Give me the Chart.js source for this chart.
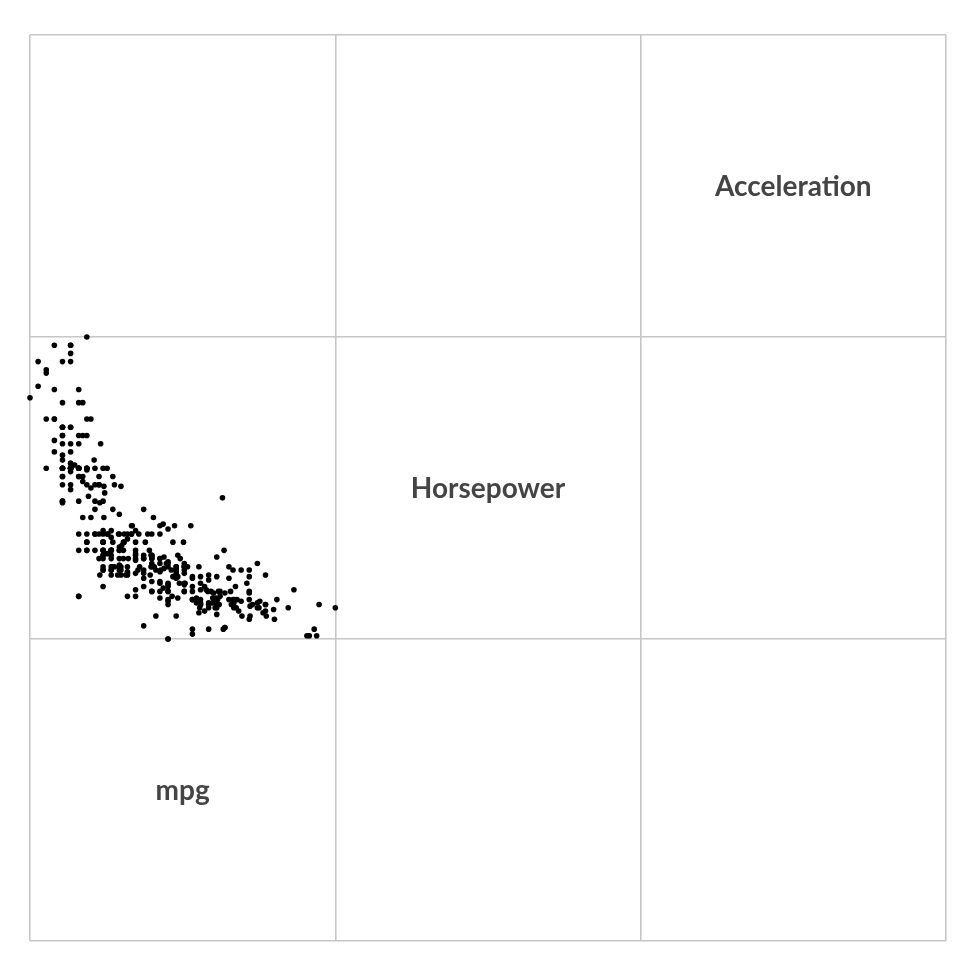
<!DOCTYPE html>
<html>
<head>
<meta charset="utf-8">
<script src="https://cdn.jsdelivr.net/npm/chart.js@4.4.0/dist/chart.umd.min.js"></script>
<style>
    html, body { margin: 0; padding: 0; background: #fff; }
    .chart-box { width: 978px; height: 972px; }
</style>
</head>
<body>
<div class="chart-box">
    <canvas id="myChart"></canvas>
</div>
<script>
// matrix fields: rows top to bottom, columns left to right
const rowFields = ["Acceleration", "Horsepower", "mpg"];
const colFields = ["mpg", "Horsepower", "Acceleration"];

// mpg vs Horsepower, one entry per car
const mpg = [
    18, 15, 18, 16, 17, 15, 14, 14, 14, 15, 15, 14, 15, 14,
    24, 22, 18, 21, 27, 26, 25, 24, 25, 26, 21, 10, 10, 11, 9, 27, 28, 25,
    19, 16, 17, 19, 18, 14, 14, 14, 14, 12, 13, 13, 18, 22, 19, 18, 23,
    28, 30, 30, 31, 35, 27, 26, 24, 25, 23, 20, 21, 13, 14, 15, 14, 17, 11, 13, 12,
    13, 19, 15, 13, 13, 14, 18, 22, 21, 26, 22, 28, 23, 28, 27, 13, 14, 13, 14, 15,
    12, 13, 13, 14, 13, 12, 13, 18, 16, 18, 18, 23, 26, 11, 12, 13, 12, 18, 20, 21,
    22, 18, 19, 21, 26, 15, 16, 29, 24, 20, 19, 15, 24, 20, 11, 20,
    19, 15, 31, 26, 32, 25, 16, 16, 18, 16, 13, 14, 14, 14, 29, 26, 26, 31, 32, 28, 24, 26, 24,
    26, 31, 19, 18, 15, 15, 16, 15, 16, 14, 17, 16, 15, 18, 21, 20, 13, 29, 23, 20,
    23, 24, 25, 24, 18, 29, 19, 23, 23, 22, 25, 33, 28, 25, 25, 26, 27, 17.5, 16, 15.5,
    14.5, 22, 22, 24, 22.5, 29, 24.5, 29, 33, 20, 18, 18.5, 17.5, 29.5, 32, 28, 26.5, 20, 13, 19,
    19, 16.5, 16.5, 13, 13, 13, 31.5, 30, 36, 25.5, 33.5, 17.5, 17, 15.5, 15, 17.5, 20.5, 19, 18.5, 16,
    15.5, 15.5, 16, 29, 24.5, 26, 25.5, 30.5, 33.5, 30, 30.5, 22, 21.5, 21.5, 43.1, 36.1, 32.8, 39.4, 36.1, 19.9,
    19.4, 20.2, 19.2, 20.5, 20.2, 25.1, 20.5, 19.4, 20.6, 20.8, 18.6, 18.1, 19.2, 17.7, 18.1, 17.5, 30, 27.5, 27.2, 30.9,
    21.1, 23.2, 23.8, 23.9, 20.3, 17, 21.6, 16.2, 31.5, 29.5, 21.5, 19.8, 22.3, 20.2, 20.6, 17, 17.6, 16.5, 18.2, 16.9,
    15.5, 19.2, 18.5, 31.9, 34.1, 35.7, 27.4, 25.4, 23, 27.2, 23.9, 34.2, 34.5, 31.8, 37.3, 28.4, 28.8, 26.8, 33.5, 41.5,
    38.1, 32.1, 37.2, 28, 26.4, 24.3, 19.1, 34.3, 29.8, 31.3, 37, 32.2, 46.6, 27.9, 40.8, 44.3, 43.4, 36.4, 30, 44.6,
    33.8, 29.8, 32.7, 23.7, 35,
    32.4, 27.2, 26.6, 25.8, 23.5, 30, 39.1, 39, 35.1, 32.3, 37, 37.7, 34.1, 34.7, 34.4, 29.9, 33,
    33.7, 32.4, 32.9, 31.6, 28.1, 30.7, 25.4, 24.2, 22.4, 26.6, 20.2, 17.6, 28, 27, 34, 31, 29, 27, 24, 36,
    37, 31, 38, 36, 36, 36, 34, 38, 32, 38, 25, 38, 26, 22, 32, 36, 27, 27, 44, 32, 28, 31
];
const horsepower = [
    130, 165, 150, 150, 140, 198, 220, 215, 225, 190, 170, 160, 150, 225,
    95, 95, 97, 85, 88, 46, 87, 90, 95, 113, 90, 215, 200, 210, 193, 88, 90, 95,
    100, 105, 100, 88, 100, 165, 175, 153, 150, 180, 170, 175, 110, 72, 100, 88, 86,
    90, 70, 76, 65, 69, 60, 70, 95, 80, 54, 90, 86, 165, 175, 150, 153, 150, 208, 155, 160,
    190, 97, 150, 130, 140, 150, 112, 76, 87, 69, 86, 92, 97, 80, 88, 175, 150, 145, 137, 150,
    198, 150, 158, 150, 215, 225, 175, 105, 100, 100, 88, 95, 46, 150, 167, 170, 180, 100, 88, 72,
    94, 90, 85, 107, 90, 145, 230, 49, 75, 91, 112, 150, 110, 122, 180, 95,
    100, 100, 67, 80, 65, 75, 100, 110, 105, 140, 150, 150, 140, 150, 83, 67, 78, 52, 61, 75, 75, 75, 97,
    93, 67, 95, 105, 72, 72, 170, 145, 150, 148, 110, 105, 110, 95, 110, 110, 129, 75, 83, 100,
    78, 96, 71, 97, 97, 70, 90, 95, 88, 98, 115, 53, 86, 81, 92, 79, 83, 140, 150, 120,
    152, 100, 105, 81, 90, 52, 60, 70, 53, 100, 78, 110, 95, 71, 70, 75, 72, 102, 150, 88,
    108, 120, 180, 145, 130, 150, 68, 80, 58, 96, 70, 145, 110, 145, 130, 110, 105, 100, 98, 180,
    170, 190, 149, 78, 88, 75, 89, 63, 83, 67, 78, 97, 110, 110, 48, 66, 52, 70, 60, 110,
    140, 139, 105, 95, 85, 88, 100, 90, 105, 85, 110, 120, 145, 165, 139, 140, 68, 95, 97, 75,
    95, 105, 85, 97, 103, 125, 115, 133, 71, 68, 115, 85, 88, 90, 110, 130, 129, 138, 135, 155,
    142, 125, 150, 71, 65, 80, 80, 77, 125, 71, 90, 70, 70, 65, 69, 90, 115, 115, 90, 76,
    60, 70, 65, 90, 88, 90, 90, 78, 90, 75, 92, 75, 65, 105, 65, 48, 48, 67, 67, 67,
    67, 62, 132, 100, 88,
    72, 84, 84, 92, 110, 84, 58, 64, 60, 67, 65, 62, 68, 63, 65, 65, 74,
    75, 75, 100, 74, 80, 76, 116, 120, 110, 105, 88, 85, 88, 88, 88, 85, 84, 90, 92, 74,
    68, 68, 63, 70, 88, 75, 70, 67, 67, 67, 110, 85, 92, 112, 96, 84, 90, 86, 52, 84, 79, 82
];

// the scatter sits in the column of mpg and the row of Horsepower;
// each cell spans the data range of its field
const mpgMin = Math.min(...mpg), mpgMax = Math.max(...mpg);
const hpMin = Math.min(...horsepower), hpMax = Math.max(...horsepower);
const mpgSpan = mpgMax - mpgMin, hpSpan = hpMax - hpMin;
const col = colFields.indexOf("mpg");
const row = rowFields.indexOf("Horsepower");
const nCols = colFields.length, nRows = rowFields.length;

const xMin = mpgMin - col * mpgSpan;
const xMax = xMin + nCols * mpgSpan;
// rows count from the top, the y axis from the bottom
const yMin = hpMin - (nRows - 1 - row) * hpSpan;
const yMax = yMin + nRows * hpSpan;

const cellTicks = (min, span, n) => {
    const t = [];
    for (let i = 0; i <= n; i++) t.push({ value: min + i * span });
    return t;
};

const cellLabels = {
    id: "cellLabels",
    afterDraw(chart) {
        const { ctx, chartArea: a } = chart;
        const cw = (a.right - a.left) / nCols;
        const ch = (a.bottom - a.top) / nRows;
        ctx.save();
        ctx.fillStyle = "#444444";
        ctx.font = "bold 28px Lato";
        ctx.textAlign = "center";
        ctx.textBaseline = "alphabetic";
        rowFields.forEach((name, r) => {
            const c = colFields.indexOf(name);
            ctx.fillText(name, a.left + cw * (c + 0.5), a.top + ch * (r + 0.5) + 10);
        });
        ctx.restore();
    }
};

const data = {
    datasets: [
        {
            label: "Horsepower vs mpg",
            data: mpg.map((m, i) => ({ x: m, y: horsepower[i] })),
            backgroundColor: "#000000",
            borderWidth: 0,
            pointRadius: 2.8,
            pointHoverRadius: 2.8,
            clip: false
        }
    ]
};

const axis = (min, max, span, n) => ({
    type: "linear",
    min: min,
    max: max,
    afterBuildTicks: s => { s.ticks = cellTicks(min, span, n); },
    ticks: { display: false },
    border: { display: false },
    grid: { color: "#c6c6c6", lineWidth: 1.6, drawTicks: false }
});

const config = {
    type: "scatter",
    data,
    options: {
        responsive: true,
        maintainAspectRatio: false,
        animation: false,
        layout: { padding: { left: 30, top: 35, right: 32, bottom: 31 } },
        plugins: {
            legend: { display: false },
            tooltip: { enabled: false }
        },
        scales: {
            x: axis(xMin, xMax, mpgSpan, nCols),
            y: axis(yMin, yMax, hpSpan, nRows)
        }
    },
    plugins: [cellLabels]
};

window.myChart = new Chart(document.getElementById("myChart"), config);
</script>
</body>
</html>
